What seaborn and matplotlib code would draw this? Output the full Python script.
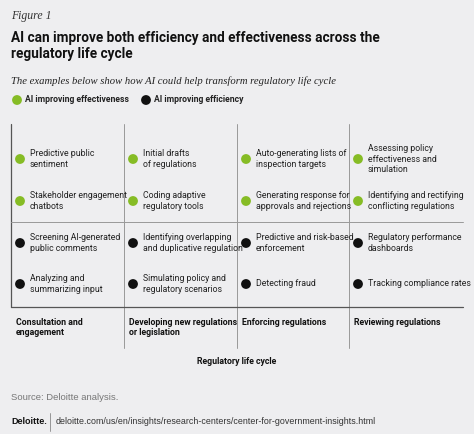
import matplotlib
matplotlib.use("Agg")
import matplotlib.pyplot as plt
import seaborn as sns
import pandas as pd

sns.set_theme(style="white")
plt.rcParams['font.family'] = ['Roboto', 'DejaVu Sans']

stages = ["Consultation and\nengagement", "Developing new regulations\nor legislation",
          "Enforcing regulations", "Reviewing regulations"]
effectiveness = [["Predictive public\nsentiment", "Stakeholder engagement\nchatbots"],
                 ["Initial drafts\nof regulations", "Coding adaptive\nregulatory tools"],
                 ["Auto-generating lists of\ninspection targets", "Generating response for\napprovals and rejections"],
                 ["Assessing policy\neffectiveness and\nsimulation", "Identifying and rectifying\nconflicting regulations"]]
efficiency = [["Screening AI-generated\npublic comments", "Analyzing and\nsummarizing input"],
              ["Identifying overlapping\nand duplicative regulation", "Simulating policy and\nregulatory scenarios"],
              ["Predictive and risk-based\nenforcement", "Detecting fraud"],
              ["Regulatory performance\ndashboards", "Tracking compliance rates"]]
types = ["AI improving effectiveness", "AI improving efficiency"]
colors = {"AI improving effectiveness": "#86BC25", "AI improving efficiency": "#111111"}

BG = "#EEEEF0"
fig = plt.figure(figsize=(4.74, 4.34), dpi=100, facecolor=BG)
ax = fig.add_axes([0, 0, 1, 1])
ax.set_facecolor(BG)
ax.set_xlim(0, 474); ax.set_ylim(434, 0); ax.axis("off")

col_x = [11, 124, 237, 349]
row_y = {"AI improving effectiveness": [159, 201], "AI improving efficiency": [243, 284]}

rows = []
for ci, st in enumerate(stages):
    for t, items in zip(types, [effectiveness[ci], efficiency[ci]]):
        for ri, lab in enumerate(items):
            rows.append(dict(stage=st, type=t, label=lab, x=col_x[ci] + 9, y=row_y[t][ri]))
df = pd.DataFrame(rows)
sns.scatterplot(data=df, x="x", y="y", hue="type", palette=colors, s=50,
                edgecolor="none", legend=False, ax=ax)
for _, r in df.iterrows():
    ax.text(r.x + 10, r.y, r.label, fontsize=6.3, va="center", ha="left",
            color="#222222", linespacing=1.2)

lc = "#555555"
ax.plot([11, 11], [124, 307], color=lc, lw=0.9)
for x in col_x[1:]:
    ax.plot([x, x], [124, 348], color="#999999", lw=0.7)
ax.plot([11, 463], [222, 222], color="#999999", lw=0.7)
ax.plot([11, 463], [307, 307], color=lc, lw=0.9)
for ci, st in enumerate(stages):
    ax.text(col_x[ci] + 5, 318, st, fontsize=6.3, fontweight="bold", va="top",
            ha="left", color="#111111", linespacing=1.2)
ax.text(237, 362, "Regulatory life cycle", fontsize=6.3, fontweight="bold",
        ha="center", va="center", color="#111111")

ax.text(11, 16, "Figure 1", fontsize=8.5, style="italic", family="Liberation Serif",
        va="center", color="#333333")
ax.text(11, 46, "AI can improve both efficiency and effectiveness across the\nregulatory life cycle",
        fontsize=9.8, fontweight="bold", va="center", color="#111111", linespacing=1.1)
ax.text(11, 81, "The examples below show how AI could help transform regulatory life cycle",
        fontsize=7.7, style="italic", family="Liberation Serif", va="center", color="#222222")
leg_x = [17, 146]
for lx, t in zip(leg_x, types):
    ax.scatter([lx], [100], s=50, color=colors[t], edgecolor="none")
    ax.text(lx + 8, 100, t, fontsize=6.2, fontweight="bold", va="center", color="#222222")

ax.text(11, 398, "Source: Deloitte analysis.", fontsize=6.8, va="center", color="#777777",
        family="Liberation Sans")
ax.text(11, 422, "Deloitte.", fontsize=6.5, fontweight="bold", va="center", color="#111111",
        family="Liberation Sans")
ax.plot([50, 50], [413, 431], color="#888888", lw=0.6)
ax.text(56, 422, "deloitte.com/us/en/insights/research-centers/center-for-government-insights.html",
        fontsize=6.4, va="center", color="#333333", family="Liberation Sans")

fig.savefig("out.png", dpi=100, facecolor=BG)
